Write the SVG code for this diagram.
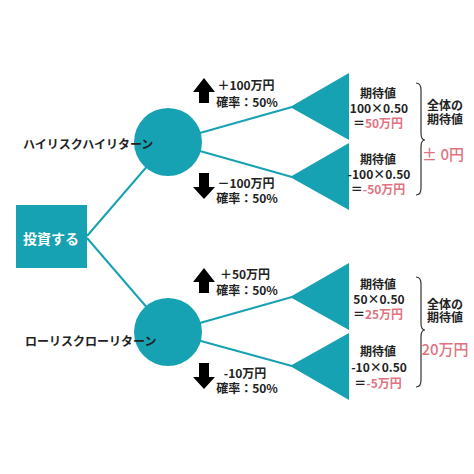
<svg xmlns="http://www.w3.org/2000/svg" width="474" height="474" viewBox="0 0 474 474">
<defs>
<style>
.teal{fill:#17a2b4;}
.ln{stroke:#17a2b4;stroke-width:2;fill:none;}
.t{font-family:"Noto Sans CJK JP","Noto Sans",sans-serif;font-weight:700;font-size:12px;fill:#222;dominant-baseline:central;}
.m{text-anchor:middle;}
.pk{fill:#e0737f;}
.big{font-size:15px;font-weight:500;}
.br{stroke:#333;stroke-width:1.2;fill:none;}
.ar{fill:#000;}
</style>
</defs>
<rect width="474" height="474" fill="#fff"/>
<g id="connectors">
<line class="ln" x1="87" y1="236" x2="168" y2="142"/>
<line class="ln" x1="87" y1="238" x2="168" y2="332"/>
<line class="ln" x1="168" y1="142" x2="292" y2="107"/>
<line class="ln" x1="168" y1="142" x2="292" y2="177"/>
<line class="ln" x1="168" y1="332" x2="292" y2="297"/>
<line class="ln" x1="168" y1="332" x2="292" y2="366"/>
</g>
<g id="root">
<rect class="teal" x="16" y="205" width="71" height="63"/>
<text class="t m" x="51" y="238" style="fill:#fff;font-size:14px">投資する</text>
</g>
<g id="high">
<circle class="teal" cx="168" cy="142" r="34"/>
<text class="t" x="23" y="143">ハイリスクハイリターン</text>
</g>
<g id="low">
<circle class="teal" cx="168" cy="332" r="34"/>
<text class="t" x="25" y="340">ローリスクローリターン</text>
</g>
<g id="high-up">
<polygon class="teal" points="290,107 349,73 349,140"/>
<polygon class="ar" points="193,92 204,78 215,92 209,92 209,103 199,103 199,92"/>
<text class="t m" x="246" y="84">＋100万円</text>
<text class="t m" x="247" y="101">確率：50%</text>
<text class="t m" x="378" y="92">期待値</text>
<text class="t m" x="379" y="107">100×0.50</text>
<text class="t m" x="378" y="122">＝<tspan class="pk">50万円</tspan></text>
</g>
<g id="high-down">
<polygon class="teal" points="290,177 349,143 349,210"/>
<polygon class="ar" points="199,173 209,173 209,187 215,187 204,199 193,187 199,187"/>
<text class="t m" x="246" y="182">－100万円</text>
<text class="t m" x="247" y="197">確率：50%</text>
<text class="t m" x="378" y="158">期待値</text>
<text class="t m" x="379" y="173">-100×0.50</text>
<text class="t m" x="378" y="188">＝<tspan class="pk">-50万円</tspan></text>
</g>
<g id="high-total">
<path class="br" d="M416,83 Q421,83 421,90 L421,133 Q421,140 425,140 Q421,140 421,147 L421,188 Q421,195 416,195"/>
<text class="t m" x="445" y="104">全体の</text>
<text class="t m" x="445" y="118">期待値</text>
<text class="t m big pk" x="443" y="153">± 0円</text>
</g>
<g id="low-up">
<polygon class="teal" points="290,297 349,263 349,330"/>
<polygon class="ar" points="193,282 204,268 215,282 209,282 209,293 199,293 199,282"/>
<text class="t m" x="245" y="273">＋50万円</text>
<text class="t m" x="247" y="289">確率：50%</text>
<text class="t m" x="378" y="283">期待値</text>
<text class="t m" x="379" y="298">50×0.50</text>
<text class="t m" x="378" y="313">＝<tspan class="pk">25万円</tspan></text>
</g>
<g id="low-down">
<polygon class="teal" points="290,366 349,333 349,400"/>
<polygon class="ar" points="199,363 209,363 209,377 215,377 204,389 193,377 199,377"/>
<text class="t m" x="245" y="372">-10万円</text>
<text class="t m" x="247" y="387">確率：50%</text>
<text class="t m" x="378" y="350">期待値</text>
<text class="t m" x="379" y="366">-10×0.50</text>
<text class="t m" x="378" y="382">＝<tspan class="pk">-5万円</tspan></text>
</g>
<g id="low-total">
<path class="br" d="M416,277 Q421,277 421,284 L421,323 Q421,330 425,330 Q421,330 421,337 L421,380 Q421,387 416,387"/>
<text class="t m" x="445" y="303">全体の</text>
<text class="t m" x="445" y="316">期待値</text>
<text class="t m big pk" x="445" y="348">20万円</text>
</g>
</svg>
